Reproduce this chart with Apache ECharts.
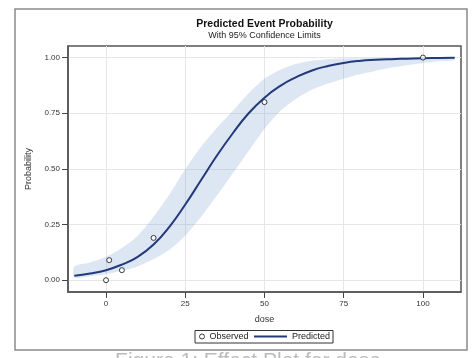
<!DOCTYPE html>
<html>
<head>
<meta charset="utf-8">
<script src="https://cdn.jsdelivr.net/npm/echarts@6/dist/echarts.min.js"></script>
<style>
html,body{margin:0;padding:0;background:#fff;}
#c{width:474px;height:358px;}
</style>
</head>
<body>
<div id="c"></div>
<script>
// ---- data ----
var doses = [-10,-5,0,5,10,15,20,25,30,35,40,45,50,55,60,65,70,75,80,85,90,95,100,105,110];
var predicted = [0.02,0.03,0.045,0.07,0.105,0.16,0.24,0.34,0.45,0.56,0.66,0.75,0.82,0.873,0.912,0.942,0.962,0.976,0.985,0.990,0.993,0.995,0.997,0.998,0.999];
var lowerCL = [0.012,0.018,0.027,0.042,0.062,0.095,0.137,0.2,0.285,0.38,0.48,0.58,0.68,0.76,0.815,0.855,0.883,0.905,0.925,0.94,0.955,0.966,0.976,0.983,0.988];
var upperCL = [0.062,0.08,0.105,0.145,0.2,0.285,0.385,0.5,0.6,0.685,0.76,0.84,0.905,0.945,0.972,0.986,0.993,0.996,0.997,0.998,0.998,0.999,0.999,0.999,0.999];
var obsDose = [0,1,5,15,50,100];
var obsProb = [0,0.09,0.045,0.19,0.8,1.0];
var xTicks = [0,25,50,75,100];
var yTicks = [0,0.25,0.5,0.75,1.0];

var FONT = 'Liberation Sans, Arial, sans-serif';
var pair = function(xs, ys){ return xs.map(function(x,i){ return [x, ys[i]]; }); };

var chart = echarts.init(document.getElementById('c'), null, {renderer:'canvas'});
chart.setOption({
  animation:false,
  backgroundColor:'#fff',
  textStyle:{fontFamily:FONT},
  grid:{left:68,right:13,top:46,bottom:66,show:true,borderColor:'#555',borderWidth:1.5,backgroundColor:'transparent'},
  xAxis:{
    type:'value',min:-12,max:112,
    axisLine:{show:true,onZero:false,lineStyle:{color:'#555',width:1.5}},
    axisTick:{show:true,length:6,customValues:xTicks,lineStyle:{color:'#444'}},
    axisLabel:{customValues:xTicks,fontSize:8,color:'#333',margin:8,fontFamily:FONT},
    splitLine:{show:true,lineStyle:{color:'#e6e6e6',width:1}},
    name:'dose',nameLocation:'middle',nameGap:23,
    nameTextStyle:{fontSize:9,color:'#333',fontFamily:FONT}
  },
  yAxis:{
    type:'value',min:-0.053,max:1.052,
    axisLine:{show:true,onZero:false,lineStyle:{color:'#555',width:1.5}},
    axisTick:{show:true,length:6,customValues:yTicks,lineStyle:{color:'#444'}},
    axisLabel:{customValues:yTicks,fontSize:8,color:'#333',margin:8,fontFamily:FONT,
      formatter:function(v){return v.toFixed(2);}},
    splitLine:{show:true,lineStyle:{color:'#e6e6e6',width:1}},
    name:'Probability',nameLocation:'middle',nameGap:35,nameRotate:90,
    nameTextStyle:{fontSize:9,color:'#333',fontFamily:FONT}
  },
  legend:[
    {data:[{name:'Observed',icon:'circle'}],left:199,top:332,itemWidth:5,itemHeight:5,padding:0,
     itemStyle:{borderWidth:1},
     textStyle:{fontSize:9,color:'#222',fontFamily:FONT}},
    {data:[{name:'Predicted',icon:'rect'}],left:254,top:332,itemWidth:33,itemHeight:2,padding:0,
     textStyle:{fontSize:9,color:'#222',fontFamily:FONT}}
  ],
  graphic:[
    {type:'rect',shape:{x:15,y:9,width:452,height:341},style:{fill:'none',stroke:'#8a8a8a',lineWidth:1.5},silent:true},
    {type:'rect',shape:{x:195,y:330.5,width:138,height:12.5},style:{fill:'none',stroke:'#333',lineWidth:1},silent:true},
    {type:'text',x:264.5,y:24,style:{text:'Predicted Event Probability',font:'bold 10.5px '+FONT,fill:'#111',textAlign:'center',textVerticalAlign:'middle'},silent:true},
    {type:'text',x:264.5,y:36,style:{text:'With 95% Confidence Limits',font:'9px '+FONT,fill:'#222',textAlign:'center',textVerticalAlign:'middle'},silent:true},
    {type:'text',x:248,y:351,style:{text:'Figure 1: Effect Plot for dose',font:'21px '+FONT,fill:'#bcbcbc',textAlign:'center',textVerticalAlign:'top'},silent:true}
  ],
  series:[
    {name:'band',type:'custom',data:[[doses[0],lowerCL[0]]],silent:true,clip:true,z:1,
     renderItem:function(params, api){
       var pts = [];
       for (var i=0;i<doses.length;i++) pts.push(api.coord([doses[i], upperCL[i]]));
       for (var j=doses.length-1;j>=0;j--) pts.push(api.coord([doses[j], lowerCL[j]]));
       return {type:'polygon',shape:{points:pts,smooth:0.25},
               style:{fill:'rgba(120,155,208,0.25)',stroke:null}};
     }},
    {name:'Predicted',type:'line',data:pair(doses,predicted),symbol:'none',smooth:true,
     lineStyle:{color:'#223a7a',width:2},itemStyle:{color:'#223a7a'},z:3},
    {name:'Observed',type:'scatter',data:pair(obsDose,obsProb),symbol:'circle',symbolSize:5,
     itemStyle:{color:'#fff',borderColor:'#111',borderWidth:1},z:4}
  ]
});
</script>
</body>
</html>
